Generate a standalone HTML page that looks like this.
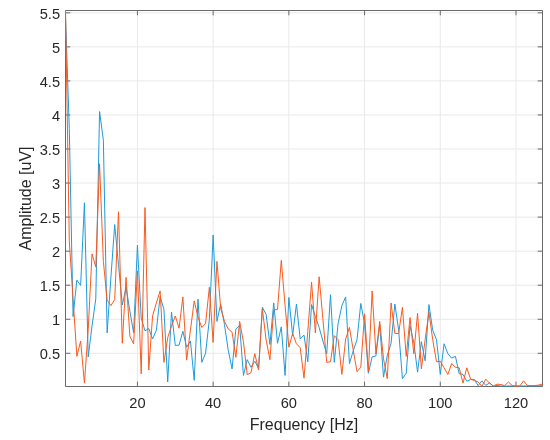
<!DOCTYPE html>
<html><head><meta charset="utf-8"><title>Amplitude spectrum</title>
<style>html,body{margin:0;padding:0;background:#fff;overflow:hidden}body{width:550px;height:440px;position:relative;font-family:"Liberation Sans",sans-serif}</style>
</head><body>
<svg width="550" height="440" viewBox="0 0 550 440" style="position:absolute;left:0;top:0">
<rect width="550" height="440" fill="#fff"/>
<path d="M137.43,10.5V386.5 M213.14,10.5V386.5 M288.86,10.5V386.5 M364.57,10.5V386.5 M440.29,10.5V386.5 M516.00,10.5V386.5 M65.5,353.30H542.5 M65.5,319.25H542.5 M65.5,285.21H542.5 M65.5,251.16H542.5 M65.5,217.11H542.5 M65.5,183.06H542.5 M65.5,149.01H542.5 M65.5,114.96H542.5 M65.5,80.91H542.5 M65.5,46.86H542.5 M65.5,12.82H542.5" stroke="#e9e9e9" stroke-width="1" fill="none"/>
<path d="M65.5,10.5H542.5V386.5H65.5Z M137.43,386.5v-4.8M137.43,10.5v4.8 M213.14,386.5v-4.8M213.14,10.5v4.8 M288.86,386.5v-4.8M288.86,10.5v4.8 M364.57,386.5v-4.8M364.57,10.5v4.8 M440.29,386.5v-4.8M440.29,10.5v4.8 M516.00,386.5v-4.8M516.00,10.5v4.8 M65.5,353.30h4.8M542.5,353.30h-4.8 M65.5,319.25h4.8M542.5,319.25h-4.8 M65.5,285.21h4.8M542.5,285.21h-4.8 M65.5,251.16h4.8M542.5,251.16h-4.8 M65.5,217.11h4.8M542.5,217.11h-4.8 M65.5,183.06h4.8M542.5,183.06h-4.8 M65.5,149.01h4.8M542.5,149.01h-4.8 M65.5,114.96h4.8M542.5,114.96h-4.8 M65.5,80.91h4.8M542.5,80.91h-4.8 M65.5,46.86h4.8M542.5,46.86h-4.8 M65.5,12.82h4.8M542.5,12.82h-4.8" stroke="#6a6a6a" stroke-width="1" fill="none"/>
<clipPath id="c"><rect x="64.5" y="9.5" width="479.0" height="378.0"/></clipPath>
<g clip-path="url(#c)" fill="none" stroke-linejoin="round" stroke-width="1">
<path d="M65.50,16.22 L69.29,128.58 L73.07,316.53 L76.86,280.10 L80.64,285.41 L84.43,202.81 L88.21,356.91 L92.00,326.06 L95.79,298.82 L99.57,111.56 L103.36,140.16 L107.14,332.87 L110.93,277.03 L114.71,224.60 L118.50,264.78 L122.29,304.95 L126.07,287.25 L129.86,311.08 L133.64,332.87 L137.43,245.10 L141.21,318.16 L145.00,330.83 L148.79,328.52 L152.57,339.00 L156.36,330.15 L160.14,296.37 L163.93,309.45 L167.71,381.97 L171.50,312.17 L175.29,345.47 L179.07,345.13 L182.86,331.24 L186.64,347.17 L190.43,341.04 L194.21,380.34 L198.00,299.10 L201.79,362.36 L205.57,353.30 L209.36,319.25 L213.14,235.02 L216.93,321.43 L220.71,304.00 L224.50,324.70 L228.29,350.58 L232.07,368.96 L235.86,329.06 L239.64,325.38 L243.43,375.43 L247.21,359.64 L251.00,367.26 L254.79,361.27 L258.57,368.28 L262.36,307.27 L266.14,314.49 L269.93,344.45 L273.71,302.91 L277.50,343.29 L281.29,326.88 L285.07,375.43 L288.86,297.46 L292.64,335.60 L296.43,304.00 L300.21,339.00 L304.00,335.05 L307.79,361.81 L311.57,304.54 L315.36,316.53 L319.14,327.43 L322.93,341.04 L326.71,353.64 L330.50,294.74 L334.29,362.36 L338.07,323.61 L341.86,305.63 L345.64,296.92 L349.43,363.52 L353.21,350.92 L357.00,339.68 L360.79,303.46 L364.57,323.61 L368.36,373.26 L372.14,356.91 L375.93,355.82 L379.71,324.70 L383.50,377.14 L387.29,355.35 L391.07,343.29 L394.86,304.00 L398.64,330.15 L402.43,378.70 L406.21,373.26 L410.00,325.79 L413.79,342.41 L417.57,372.17 L421.36,341.73 L425.14,360.79 L428.93,304.54 L432.71,330.15 L436.50,339.68 L440.29,374.41 L444.07,343.77 L447.86,353.64 L451.64,358.07 L455.43,356.37 L459.21,373.73 L463.00,374.41 L466.79,381.22 L470.57,379.45 L474.36,379.45 L478.14,385.65 L481.93,380.88 L485.71,385.31 L489.50,383.06 L493.29,385.99 L497.07,385.51 L500.86,385.99 L504.64,386.13 L508.43,385.99 L512.21,385.99 L516.00,385.99 L519.79,385.99 L523.57,385.99 L527.36,385.99 L531.14,385.99 L534.93,385.99 L538.71,385.85 L542.50,385.65" stroke="#1E9ADC"/>
<path d="M65.50,10.50 L69.29,240.94 L73.07,298.82 L76.86,356.37 L80.64,341.04 L84.43,383.06 L88.21,329.47 L92.00,253.88 L95.79,266.82 L99.57,163.72 L103.36,261.37 L107.14,300.19 L110.93,305.63 L114.71,299.51 L118.50,211.66 L122.29,343.29 L126.07,277.31 L129.86,336.28 L133.64,343.77 L137.43,270.90 L141.21,373.80 L145.00,207.57 L148.79,369.99 L152.57,315.85 L156.36,302.91 L160.14,290.93 L163.93,362.36 L167.71,337.64 L171.50,326.06 L175.29,315.99 L179.07,328.11 L182.86,296.92 L186.64,360.11 L190.43,330.15 L194.21,300.87 L198.00,317.21 L201.79,327.43 L205.57,323.61 L209.36,287.25 L213.14,342.41 L216.93,261.37 L220.71,308.36 L224.50,321.43 L228.29,329.06 L232.07,332.19 L235.86,357.39 L239.64,321.43 L243.43,341.73 L247.21,374.69 L251.00,372.71 L254.79,353.64 L258.57,369.99 L262.36,308.90 L266.14,340.02 L269.93,359.64 L273.71,309.99 L277.50,309.45 L281.29,260.35 L285.07,305.63 L288.86,347.17 L292.64,333.55 L296.43,343.77 L300.21,347.65 L304.00,378.16 L307.79,331.51 L311.57,282.21 L315.36,332.87 L319.14,276.76 L322.93,319.25 L326.71,362.36 L330.50,361.81 L334.29,335.60 L338.07,339.68 L341.86,374.41 L345.64,339.00 L349.43,327.43 L353.21,349.90 L357.00,371.69 L360.79,367.26 L364.57,313.81 L368.36,371.69 L372.14,290.93 L375.93,353.98 L379.71,321.43 L383.50,358.75 L387.29,378.70 L391.07,302.91 L394.86,333.55 L398.64,333.55 L402.43,307.27 L406.21,356.37 L410.00,317.62 L413.79,353.64 L417.57,313.26 L421.36,368.96 L425.14,339.68 L428.93,312.17 L432.71,339.68 L436.50,361.81 L440.29,361.27 L444.07,367.81 L447.86,374.41 L451.64,363.52 L455.43,367.26 L459.21,367.81 L463.00,383.06 L466.79,367.81 L470.57,379.11 L474.36,380.54 L478.14,381.97 L481.93,386.33 L485.71,379.11 L489.50,383.06 L493.29,385.99 L497.07,384.15 L500.86,384.56 L504.64,385.65 L508.43,381.97 L512.21,385.51 L516.00,386.33 L519.79,385.99 L523.57,380.88 L527.36,385.51 L531.14,385.65 L534.93,385.65 L538.71,385.04 L542.50,384.01" stroke="#FA5A1E"/>
</g>
<g font-family="'Liberation Sans', sans-serif" fill="#262626">
<g font-size="14.67" text-anchor="middle">
<text x="137.43" y="408.4">20</text>
<text x="213.14" y="408.4">40</text>
<text x="288.86" y="408.4">60</text>
<text x="364.57" y="408.4">80</text>
<text x="440.29" y="408.4">100</text>
<text x="516.00" y="408.4">120</text>
</g><g font-size="14.67" text-anchor="end">
<text x="60.1" y="359.00">0.5</text>
<text x="60.1" y="324.95">1</text>
<text x="60.1" y="290.91">1.5</text>
<text x="60.1" y="256.86">2</text>
<text x="60.1" y="222.81">2.5</text>
<text x="60.1" y="188.76">3</text>
<text x="60.1" y="154.71">3.5</text>
<text x="60.1" y="120.66">4</text>
<text x="60.1" y="86.61">4.5</text>
<text x="60.1" y="52.56">5</text>
<text x="60.1" y="18.52">5.5</text>
</g>
<text font-size="16" text-anchor="middle" x="304.00" y="429.6">Frequency [Hz]</text>
<text font-size="16" text-anchor="middle" transform="translate(30.9,198.50) rotate(-90)">Amplitude [uV]</text>
</g></svg>
</body></html>
